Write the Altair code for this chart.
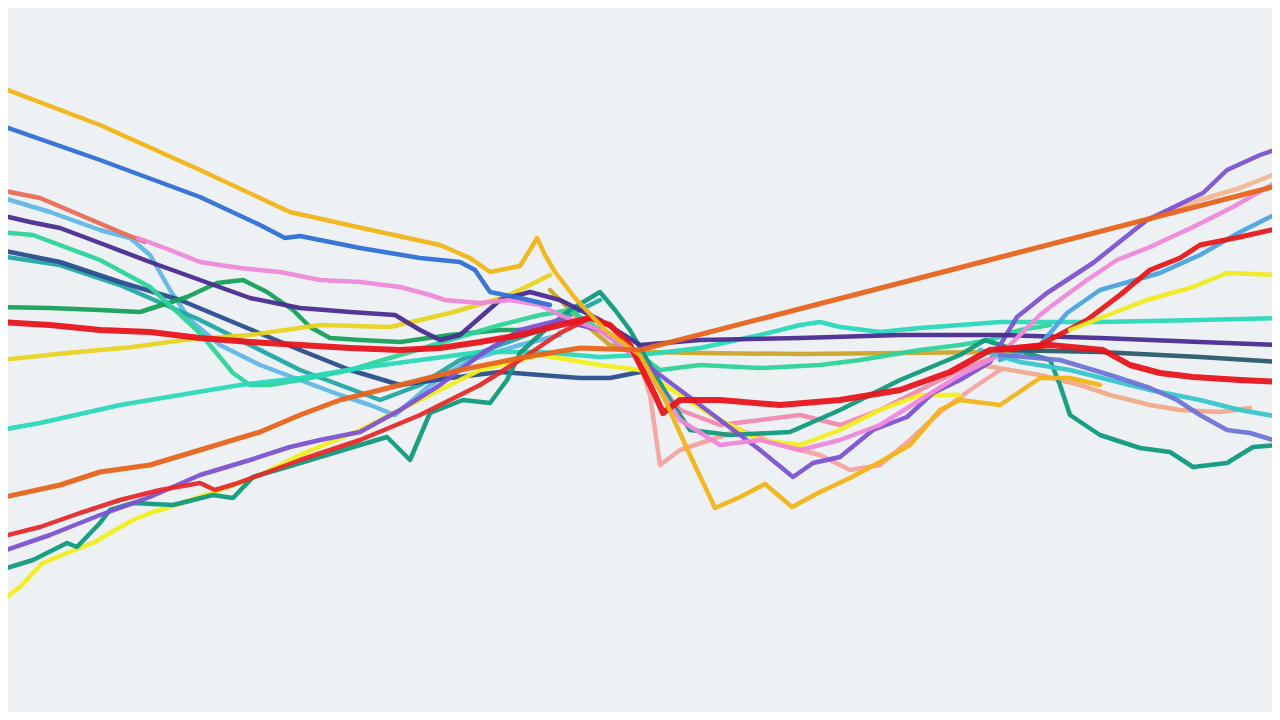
import altair as alt
import pandas as pd

# ---- series (t = time step, v = level; y axis runs downward) ----
pinkmid_t = [64, 68, 72, 76, 80, 84, 88, 92, 96, 100]
pinkmid_v = [36, 41, 42.5, 42, 41.5, 42.5, 41, 39, 37, 35.5]

salmonV_t = [56, 60, 63.5, 65, 66, 68, 71, 74, 78, 82, 85, 88, 91, 94, 97, 100]
salmonV_v = [32, 33, 35, 39.5, 46.5, 45, 44, 43, 44.5, 45.5, 47, 46.5, 44, 41.2, 39, 37]

salmonU_t = [98, 104, 108, 111, 115, 118, 122, 125]
salmonU_v = [36.5, 37.5, 38.5, 39.5, 40.5, 41, 41.2, 40.8]

peach_t = [116, 120, 124, 128]
peach_v = [21.5, 20, 18.8, 17.2]

lightblue_t = [0, 5, 10, 13, 15, 17, 19, 22, 26, 30, 34, 37, 39.5, 43, 47, 52, 56]
lightblue_v = [19.7, 21.2, 23, 23.8, 25.5, 29, 32, 34.5, 36.5, 38, 39.5, 40.5, 41.5, 38.5, 36, 34.5, 33.5]

coral_t = [0, 4, 8, 12, 14.5]
coral_v = [19, 19.8, 21.5, 23.2, 24.2]

teal2_t = [0, 6, 12, 20, 26, 30, 34, 38, 42, 46, 50, 54, 57, 60]
teal2_v = [25.6, 26.5, 28.5, 32, 35, 37, 38.5, 40, 38.5, 36, 34.5, 33, 31.5, 30]

navy_t = [0, 6, 12, 18, 24, 30, 35, 40, 45, 50, 54, 58, 61, 64]
navy_v = [25, 26.2, 28.2, 30, 32.5, 35, 37, 38.5, 37.8, 37.2, 37.5, 37.8, 37.8, 37.2]

dkgreen_t = [0, 5, 10, 14, 18.7, 21.7, 24.3, 26.7, 29.3, 31, 33, 36, 40, 45, 50, 52]
dkgreen_v = [30.7, 30.8, 31, 31.2, 29.7, 28.3, 28, 29.2, 31, 32.7, 33.8, 34, 34.2, 33.5, 33, 33]

yellowB_t = [0.3, 2, 3.3, 4.3, 6.7, 9.3, 11, 13.3, 15.3, 16.7, 22, 26, 30, 36, 42, 48, 54,
             60, 64, 68, 72, 76, 80, 84, 88, 92, 96]
yellowB_v = [60, 58.7, 57.3, 56.3, 55.3, 54.3, 53.3, 52, 51.2, 50.8, 49, 47.5, 45.5, 43, 40, 37, 35.5,
             36.5, 37, 39.5, 42, 44, 44.5, 43, 41, 39.5, 39.5]

yellowL_t = [0, 6.7, 13.3, 18.3, 25, 32, 39, 45, 50.5, 53, 55]
yellowL_v = [36, 35.3, 34.7, 34, 33.5, 32.5, 32.7, 31.3, 29.7, 28.5, 27.5]

olive_t = [55, 58, 61, 64, 70, 80, 90, 100, 104]
olive_v = [29, 32, 34.5, 35.2, 35.3, 35.4, 35.3, 35.2, 35]

mint_t = [0, 3.3, 10, 15, 20, 23.3, 25, 27, 30, 35, 40, 45, 50, 54, 57, 60, 64, 66, 70, 76,
          82, 86, 92, 96, 99, 102, 105]
mint_v = [23.2, 23.5, 26, 28.7, 33.3, 37.3, 38.5, 38.5, 38, 37, 35.5, 34, 32.5, 31.5, 31, 33,
          35.5, 37, 36.5, 36.8, 36.5, 36, 35, 34.5, 34, 33, 32.5]

aqua_t = [0, 4, 8, 12, 18, 24, 30, 36, 42, 48, 54, 60, 64, 70, 76, 80, 82, 84, 88, 92, 96,
          100, 110, 120, 128]
aqua_v = [43, 42.3, 41.4, 40.5, 39.5, 38.5, 37.8, 36.8, 36, 35.2, 35.2, 35.7, 35.5, 34.8, 33.5,
          32.5, 32.2, 32.7, 33.2, 32.8, 32.5, 32.2, 32.2, 32, 31.8]

dkteal_t = [0, 3.3, 6.7, 7.7, 10, 11, 13.3, 17.3, 21.3, 23.3, 25.3, 28.7, 32, 36, 38.7, 41, 43,
            46.3, 49, 50.7, 52, 54.5, 57, 60, 61.5, 63, 65, 67, 69, 73, 79, 84, 90, 96, 98.5,
            100, 105, 106, 107, 110, 114, 117, 119.3, 122.7, 125.3, 128]
dkteal_v = [57, 56, 54.3, 54.7, 52.3, 51, 50.3, 50.5, 49.5, 49.8, 47.7, 46.7, 45.7, 44.5, 43.7,
            46, 41.3, 40, 40.3, 38, 35.3, 33, 31, 29.2, 31, 33, 36.5, 40, 43, 43.5, 43.2, 41,
            38, 35.5, 34, 34.5, 36, 38.5, 41.5, 43.5, 44.8, 45.2, 46.7, 46.3, 44.7, 44.5]

violet_t = [0, 5, 10, 15, 20, 25, 29, 32, 36, 40, 44, 48, 52, 56, 60, 64, 68, 72, 76, 79.3,
            81.3, 84, 87.3, 90.7, 93.3, 96, 99, 101.7, 104.7, 109.3, 114.7, 120.3, 122.7, 126, 128]
violet_v = [55.2, 53.5, 51.5, 49.7, 47.5, 46, 44.7, 44, 43.2, 41, 38.5, 35.5, 33, 32, 33, 36,
            39, 42, 45, 47.7, 46.3, 45.7, 43, 41.7, 39.3, 38, 36.2, 31.7, 29.3, 26.3, 22, 19.3,
            17, 15.5, 14.8]

dkpurple_t = [0, 3, 6, 10, 15, 20, 25, 30, 35, 39.5, 42, 44, 46, 50, 53, 56, 60, 64, 70, 80,
              90, 100, 110, 120, 128]
dkpurple_v = [21.5, 22.2, 22.8, 24.3, 26.2, 28, 29.8, 30.8, 31.2, 31.5, 33, 34, 33.5, 30, 29.2,
              30, 32, 34.5, 34, 33.8, 33.5, 33.5, 33.8, 34.2, 34.5]

pink_t = [13.8, 17, 20, 24, 28, 32, 36, 40, 43, 44.5, 48, 51, 54, 56, 60, 64, 68, 72, 76, 80,
          84, 88, 92, 96, 100, 104, 105, 108.7, 111.7, 115, 119.3, 123.3, 128]
pink_v = [23.8, 25, 26.2, 26.8, 27.2, 28, 28.2, 28.7, 29.5, 30, 30.3, 30, 30.5, 31.5, 33, 36,
          42, 44.5, 44, 45, 44, 42.5, 40, 37.5, 35.5, 31.5, 30.7, 28, 26, 24.7, 22.7, 20.7, 18]

skyblue_t = [100, 104, 106.7, 110, 116, 120, 124, 128]
skyblue_v = [36, 34.5, 31.3, 29, 27.3, 25.5, 23.2, 21.2]

cyan_t = [98, 102, 107, 111, 115, 120, 124, 128]
cyan_v = [35, 36.2, 37, 38, 39, 40, 41, 41.7]

slate_t = [100, 106, 111, 115, 117.7, 120, 122.7, 125, 127.3, 128]
slate_v = [35.5, 36, 37.5, 38.8, 40, 41.5, 43, 43.3, 44, 44]

dkslate_t = [100, 110, 120, 128]
dkslate_v = [35, 35.2, 35.7, 36.2]

red2_t = [100, 104, 108.7, 112, 115, 118, 120, 124, 128]
red2_v = [35, 34.5, 32, 29.5, 27, 25.8, 24.5, 23.7, 22.8]

redL_t = [0, 4, 8, 12, 16, 20, 21.5, 23.5, 26, 30, 36, 42, 48, 52, 56, 59]
redL_v = [53.7, 52.7, 51.3, 50, 49, 48.3, 49, 48.4, 47.5, 46, 44, 41.5, 38.5, 36, 33.3, 31.8]

redH_t = [0, 5, 10, 15, 20, 25, 30, 35, 40, 44, 48, 52, 56, 59, 61, 63, 64.5, 65.5, 66.3, 68,
          72, 78, 84, 90, 95, 99, 105, 110.3, 113, 116, 119.3, 124, 128]
redH_v = [32.2, 32.5, 33, 33.2, 33.8, 34.2, 34.5, 34.8, 35, 34.8, 34.2, 33.5, 32.5, 31.8, 32.5,
          34.5, 37.5, 39.5, 41.3, 40, 40, 40.5, 40, 39, 37.2, 35, 34.5, 35, 36.5, 37.3, 37.7, 38, 38.2]

yellowR_t = [107, 110.3, 114.7, 119.3, 122.7, 128]
yellowR_v = [33, 31.7, 30, 28.7, 27.3, 27.5]

blue_t = [0, 10, 20, 26, 28.5, 30, 36, 42, 46, 47.5, 49, 52, 55]
blue_v = [12.5, 16, 19.7, 22.5, 23.8, 23.6, 24.8, 25.8, 26.2, 27, 29.2, 29.8, 30.5]

amber_t = [0, 10, 20, 29, 38, 44, 47, 49, 52, 53, 53.7, 54.5, 55.5, 57.5, 60.5, 64, 66.5, 69,
           71.5, 74, 76.5, 79.2, 82, 85, 88, 91, 94, 96, 100, 104, 107, 110]
amber_v = [8.7, 12.5, 17, 21.2, 23.2, 24.5, 25.8, 27.2, 26.6, 25, 23.8, 25.5, 27.2, 29.8, 33,
           35.5, 40, 45.5, 50.8, 49.7, 48.4, 50.7, 49.2, 47.8, 46.2, 44.5, 41, 40, 40.5, 37.8,
           37.8, 38.5]

orange_t = [0, 6, 10, 15, 20, 26, 30, 34, 40, 46, 52, 58, 64, 128]
orange_v = [49.8, 48.5, 47.2, 46.5, 45, 43.2, 41.5, 40, 38.5, 37, 35.8, 34.8, 35, 18.5]

# drawing order (first = bottom), colour, width
series = [
    ("pinkmid", pinkmid_t, pinkmid_v, "#f28ab0", 4.5),
    ("salmonV", salmonV_t, salmonV_v, "#f4a2a0", 4.5),
    ("salmonU", salmonU_t, salmonU_v, "#f0a98a", 4.5),
    ("peach", peach_t, peach_v, "#f7b58f", 4.5),
    ("lightblue", lightblue_t, lightblue_v, "#62b6e6", 4.5),
    ("coral", coral_t, coral_v, "#eb6a55", 4.5),
    ("teal2", teal2_t, teal2_v, "#23a5a5", 4.5),
    ("navy", navy_t, navy_v, "#2a4d8f", 4.5),
    ("dkgreen", dkgreen_t, dkgreen_v, "#17a05a", 4.5),
    ("yellowB", yellowB_t, yellowB_v, "#f3ee1a", 4.5),
    ("yellowL", yellowL_t, yellowL_v, "#e9d21e", 4.5),
    ("olive", olive_t, olive_v, "#cda42a", 4.5),
    ("mint", mint_t, mint_v, "#2fd39a", 4.5),
    ("aqua", aqua_t, aqua_v, "#2ad8b8", 4.5),
    ("dkteal", dkteal_t, dkteal_v, "#109a7c", 4.5),
    ("violet", violet_t, violet_v, "#7d52d3", 4.5),
    ("dkpurple", dkpurple_t, dkpurple_v, "#4b2c91", 4.5),
    ("pink", pink_t, pink_v, "#ef88d8", 4.5),
    ("skyblue", skyblue_t, skyblue_v, "#4aa3e3", 4.5),
    ("cyan", cyan_t, cyan_v, "#38c6cc", 4.5),
    ("slate", slate_t, slate_v, "#6e74d6", 4.5),
    ("dkslate", dkslate_t, dkslate_v, "#2a5a6a", 4.5),
    ("red2", red2_t, red2_v, "#e81818", 5),
    ("redL", redL_t, redL_v, "#e62a2a", 4.5),
    ("redH", redH_t, redH_v, "#e8141c", 6),
    ("yellowR", yellowR_t, yellowR_v, "#f0ea20", 4.5),
    ("blue", blue_t, blue_v, "#2f6fd6", 4.5),
    ("amber", amber_t, amber_v, "#f2b418", 4.5),
    ("orange", orange_t, orange_v, "#e8631c", 5),
]

rows = []
names, colors = [], []
for i, (name, ts, vs, col, w) in enumerate(series):
    key = f"{i:02d}_{name}"
    names.append(key)
    colors.append(col)
    for j, (t, v) in enumerate(zip(ts, vs)):
        rows.append({"series": key, "t": t, "v": v, "o": j, "w": w})
df = pd.DataFrame(rows)

chart = (
    alt.Chart(df)
    .mark_line(clip=True, strokeCap="round", strokeJoin="round", opacity=0.95)
    .encode(
        x=alt.X("t:Q", axis=None, scale=alt.Scale(domain=[0.8, 127.2], nice=False, zero=False)),
        y=alt.Y("v:Q", axis=None, scale=alt.Scale(domain=[0.8, 71.2], reverse=True, nice=False, zero=False)),
        color=alt.Color("series:N", legend=None, scale=alt.Scale(domain=names, range=colors)),
        strokeWidth=alt.StrokeWidth("w:Q", scale=None),
        order=alt.Order("o:Q"),
        detail="series:N",
    )
    .properties(width=1264, height=704, autosize=alt.AutoSizeParams(type="none"), padding=0)
    .configure(background="#edf1f4")
    .configure_view(stroke=None)
)

chart.save("out.html", embed_options={"renderer": "svg", "actions": False})
